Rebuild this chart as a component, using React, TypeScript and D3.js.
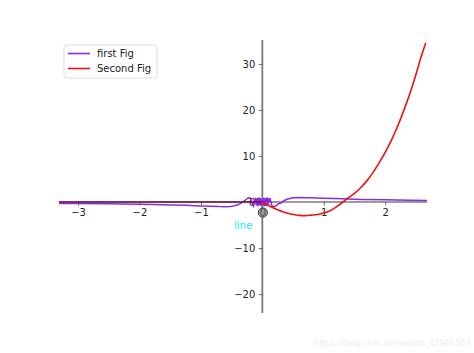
import React, { useEffect, useRef } from 'react';
import * as d3 from 'd3';

// values
const firstX = [-3.31, -3.0, -2.5, -2.0, -1.75, -1.5, -1.25, -1.0, -0.85, -0.7, -0.6, -0.52, -0.45, -0.4, -0.35, -0.3,
  -0.26, -0.23, -0.2, -0.18, -0.16, -0.145, -0.13, -0.115, -0.1, -0.09, -0.08, -0.07, -0.06, -0.05, -0.04, -0.03,
  -0.02, -0.01, 0, 0.01, 0.02, 0.03, 0.04, 0.05, 0.06, 0.07, 0.08, 0.09, 0.1, 0.115, 0.13, 0.145, 0.16, 0.18, 0.2,
  0.23, 0.26, 0.3, 0.35, 0.4, 0.5, 0.6, 0.8, 1.0, 1.3, 1.6, 2.0, 2.4, 2.68];
const firstY = [-0.3, -0.33, -0.39, -0.48, -0.54, -0.62, -0.72, -0.84, -0.93, -0.99, -1.0, -0.95, -0.8, -0.6, -0.3, 0.2,
  0.6, 0.95, 0.9, 0.3, -0.5, -0.9, -0.1, 0.9, -0.6, 0.8, -0.9, 0.95, -0.8, 0.9, -0.7, 0.9, -0.9, 0.6, 0, -0.6, 0.9,
  -0.9, 0.8, -0.9, 0.95, -0.8, 0.9, -0.7, 0.9, 0.2, 0.6, -0.4, -0.9, -0.9, -0.98, -0.7, -0.4, -0.2, 0.28, 0.6, 0.91,
  1.0, 0.95, 0.84, 0.69, 0.58, 0.48, 0.4, 0.36];

const secondLeftX = [-3.31, 0];
const secondLeftY = [0, 0];
const secondX = [0, 0.1, 0.2, 0.3, 0.4, 0.5, 0.6, 0.7, 0.8, 0.9, 1.0, 1.1, 1.2, 1.3, 1.4, 1.5, 1.6, 1.7, 1.8, 1.9,
  2.0, 2.1, 2.2, 2.3, 2.4, 2.5, 2.6, 2.66];
const secondY = [0, -0.75, -1.4, -1.95, -2.4, -2.7, -2.9, -2.95, -2.85, -2.7, -2.4, -1.9, -1.1, -0.1, 0.9, 1.9, 3.1,
  4.6, 6.4, 8.5, 10.8, 13.4, 16.4, 19.8, 23.5, 27.7, 32.2, 34.6];

const xTicks = [-3, -2, -1, 0, 1, 2];
const yTicks = [-20, -10, 0, 10, 20, 30];
const legendLabels = ['first Fig', 'Second Fig'];

const W = 474;
const H = 353;

export default function App() {
  const ref = useRef<SVGSVGElement>(null);

  useEffect(() => {
    const svg = d3.select(ref.current);
    svg.selectAll('*').remove();

    const x = d3.scaleLinear().domain([-3.31, 2.68]).range([59, 427]);
    const y = d3.scaleLinear().domain([-24.1, 35.2]).range([313, 40]);
    const font = 'DejaVu Sans, sans-serif';

    svg.append('rect').attr('width', W).attr('height', H).attr('fill', '#fff');

    // spines through the origin
    svg.append('line')
      .attr('x1', x(-3.31)).attr('x2', x(2.68))
      .attr('y1', y(0)).attr('y2', y(0))
      .attr('stroke', '#7a7a7a').attr('stroke-width', 1.5);
    svg.append('line')
      .attr('x1', x(0)).attr('x2', x(0))
      .attr('y1', y(35.2)).attr('y2', y(-24.1))
      .attr('stroke', '#7a7a7a').attr('stroke-width', 1.8);

    const fmt = (d: d3.NumberValue) => d3.format('d')(d as number).replace('-', '\u2212');
    const xAxis = svg.append('g')
      .attr('transform', `translate(0,${y(0)})`)
      .call(d3.axisBottom(x).tickValues(xTicks).tickSize(3.5).tickPadding(3.5).tickFormat(fmt));
    const yAxis = svg.append('g')
      .attr('transform', `translate(${x(0)},0)`)
      .call(d3.axisLeft(y).tickValues(yTicks).tickSize(3.5).tickPadding(3.5).tickFormat(fmt));
    [xAxis, yAxis].forEach(a => {
      a.select('.domain').remove();
      a.selectAll('line').attr('stroke', '#444').attr('stroke-width', 0.8);
      a.selectAll('text').attr('fill', '#222').attr('font-family', font).attr('font-size', 10);
    });

    // grey bbox behind the x "0" label
    const zeroTick = xAxis.selectAll<SVGGElement, number>('.tick').filter(d => d === 0);
    zeroTick.insert('circle', 'text')
      .attr('cx', 0).attr('cy', 10.5).attr('r', 4.6)
      .attr('fill', '#9c9c9c').attr('stroke', '#3a3a3a').attr('stroke-width', 1);
    zeroTick.select('text').attr('fill', '#555');

    const straight = d3.line<[number, number]>().x(d => x(d[0])).y(d => y(d[1]));
    const smooth = d3.line<[number, number]>().x(d => x(d[0])).y(d => y(d[1])).curve(d3.curveMonotoneX);

    svg.append('path')
      .datum(firstX.map((v, i) => [v, firstY[i]] as [number, number]))
      .attr('d', straight)
      .attr('fill', 'none').attr('stroke', '#8a2be2').attr('stroke-width', 1.5);

    svg.append('path')
      .datum(secondLeftX.map((v, i) => [v, secondLeftY[i]] as [number, number]))
      .attr('d', straight)
      .attr('fill', 'none').attr('stroke', '#7a1530').attr('stroke-width', 1.6);

    svg.append('path')
      .datum(secondX.map((v, i) => [v, secondY[i]] as [number, number]))
      .attr('d', smooth)
      .attr('fill', 'none').attr('stroke', '#ee1111').attr('stroke-width', 1.6);

    svg.append('text')
      .attr('x', x(-0.31)).attr('y', y(-5.2)).attr('dy', '0.35em')
      .attr('text-anchor', 'middle')
      .attr('font-family', font).attr('font-size', 10).attr('fill', '#22e5e5')
      .text('line');

    // legend
    const lg = svg.append('g').attr('transform', 'translate(64,45)');
    lg.append('rect')
      .attr('width', 93).attr('height', 33).attr('rx', 2.5)
      .attr('fill', '#fff').attr('stroke', '#d6d6d6').attr('stroke-width', 0.8);
    const legendColors = ['#8a2be2', '#ee1111'];
    legendLabels.forEach((lab, i) => {
      const yy = 8.5 + i * 15;
      lg.append('line').attr('x1', 4).attr('x2', 26).attr('y1', yy).attr('y2', yy)
        .attr('stroke', legendColors[i]).attr('stroke-width', 1.6);
      lg.append('text').attr('x', 33).attr('y', yy).attr('dy', '0.35em')
        .attr('font-family', font).attr('font-size', 10).attr('fill', '#222')
        .text(lab);
    });

    svg.append('text')
      .attr('x', 470).attr('y', 346).attr('text-anchor', 'end')
      .attr('font-family', font).attr('font-size', 8).attr('fill', '#ececec')
      .text('https://blog.csdn.net/weixin_42846163');
  }, []);

  return (
    <svg ref={ref} width={W} height={H}
      style={{ position: 'absolute', left: 0, top: 0, display: 'block' }} />
  );
}
